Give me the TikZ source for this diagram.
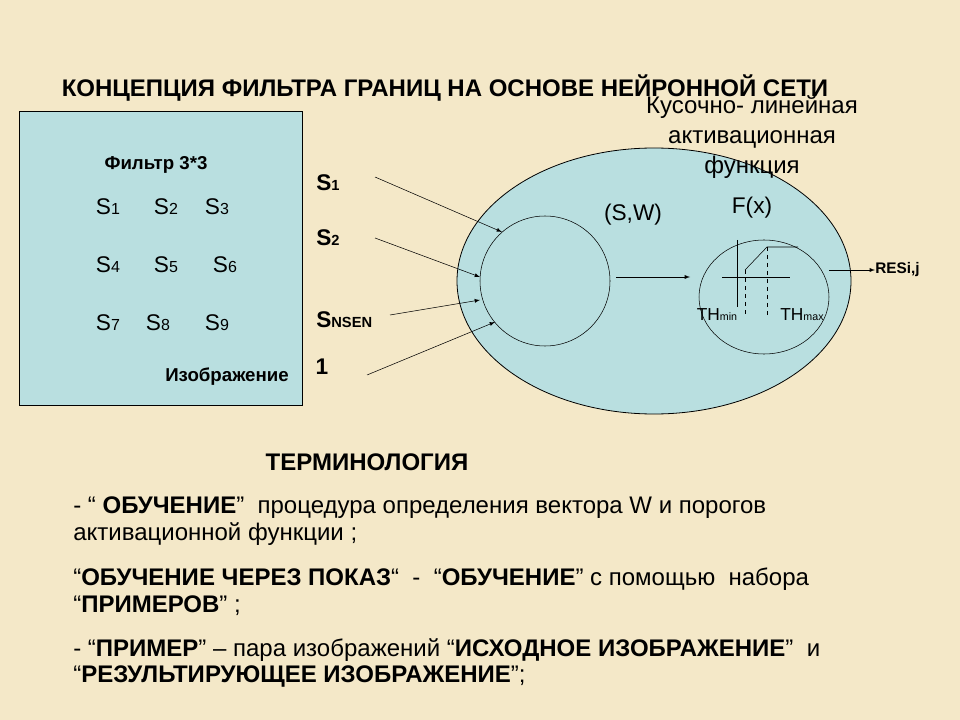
\documentclass[tikz,border=0pt]{standalone}
\usepackage{fontspec}
\setmainfont{Liberation Sans}
\usetikzlibrary{shapes.geometric}
\newcommand\smsub[2]{#1{\fontsize{12}{12}\selectfont #2}}
\begin{document}
\begin{tikzpicture}[x=0.75pt,y=-0.75pt,
  txt/.style={font=\fontsize{18}{20}\selectfont, inner sep=0pt},
  btxt/.style={font=\fontsize{18}{20}\selectfont\bfseries, inner sep=0pt},
  stxt/.style={font=\fontsize{17}{19}\selectfont, inner sep=0pt},
  arr/.style={-latex, black},
  shape1/.style={draw=black, fill=cellblue, line width=0.6pt}]
\definecolor{bgc}{HTML}{F4E8C8}
\definecolor{cellblue}{HTML}{B9DFE0}
\fill[bgc] (0,0) rectangle (960,720);
\useasboundingbox (0,0) rectangle (960,720);
\node[btxt] (title) at (445,88) {КОНЦЕПЦИЯ ФИЛЬТРА ГРАНИЦ НА ОСНОВЕ НЕЙРОННОЙ СЕТИ};
% image box
\node[shape1, rectangle, minimum width=212.25pt, minimum height=220.5pt, anchor=north west] (box) at (19,111) {};
\node[btxt, font=\fontsize{14}{16}\selectfont\bfseries] (filt) at (156,165) {Фильтр 3*3};
\node[stxt] (s1) at (108,207) {\smsub{S}{1}};
\node[stxt] (s2) at (166,207) {\smsub{S}{2}};
\node[stxt] (s3) at (217,207) {\smsub{S}{3}};
\node[stxt] (s4) at (108,265) {\smsub{S}{4}};
\node[stxt] (s5) at (166,265) {\smsub{S}{5}};
\node[stxt] (s6) at (225,265) {\smsub{S}{6}};
\node[stxt] (s7) at (108,323) {\smsub{S}{7}};
\node[stxt] (s8) at (158,323) {\smsub{S}{8}};
\node[stxt] (s9) at (217,323) {\smsub{S}{9}};
\node[btxt, font=\fontsize{14}{16}\selectfont\bfseries] (izo) at (227,377) {Изображение};
% ellipse
\node[shape1, ellipse, minimum width=295.5pt, minimum height=199.5pt, inner sep=0pt] (big) at (654,281) {};
\node[txt, align=center, font=\fontsize{18}{22.5}\selectfont] (act) at (752,137) {Кусочно- линейная\\активационная\\функция};
\node[draw=black, circle, minimum size=97.5pt, inner sep=0pt] (sum) at (545,281) {};
\node[draw=black, ellipse, minimum width=97.5pt, minimum height=85.5pt, inner sep=0pt] (fx) at (764,297) {};
\node[txt, font=\fontsize{17}{19}\selectfont] (sw) at (633,215) {(S,W)};
\node[txt, font=\fontsize{17}{19}\selectfont] (fxl) at (752,208) {F(x)};
\node[stxt, font=\fontsize{13}{14}\selectfont] (thmin) at (717,315) {TH{\fontsize{8}{9}\selectfont min}};
\node[stxt, font=\fontsize{13}{14}\selectfont] (thmax) at (802,315) {TH{\fontsize{8}{9}\selectfont max}};
% graph
\coordinate (va) at (737,240); \coordinate (vb) at (737,307);
\coordinate (ha) at (722,277); \coordinate (hb) at (790,277);
\coordinate (r1) at (745,270); \coordinate (r2) at (767,247); \coordinate (r3) at (798,247);
\coordinate (d1) at (745,316); \coordinate (d2) at (767,316);
\draw (va) -- (vb); \draw (ha) -- (hb);
\draw (r1) -- (r2) -- (r3);
\draw[dashed] (r1) -- (d1); \draw[dashed] (r2) -- (d2);
% inputs
\node[btxt, font=\fontsize{17}{19}\selectfont\bfseries] (in1) at (328,183) {S{\fontsize{11}{12}\selectfont\bfseries 1}};
\node[btxt, font=\fontsize{17}{19}\selectfont\bfseries] (in2) at (328,238) {S{\fontsize{11}{12}\selectfont\bfseries 2}};
\node[btxt, font=\fontsize{17}{19}\selectfont\bfseries, anchor=west] (in3) at (316,320) {S{\fontsize{11}{12}\selectfont\bfseries NSEN}};
\node[btxt, font=\fontsize{17}{19}\selectfont\bfseries] (in4) at (322,367) {1};
\coordinate (a1) at (375,177); \coordinate (a2) at (375,238);
\coordinate (a3) at (390,315); \coordinate (a4) at (367,375);
\draw[arr] (a1) -- (502,232);
\draw[arr] (a2) -- (480,277);
\draw[arr] (a3) -- (480,300);
\draw[arr] (a4) -- (495,322);
\coordinate (m1) at (616,277); \coordinate (m2) at (690,277);
\draw[arr] (m1) -- (m2);
\node[btxt, font=\fontsize{11.5}{12}\selectfont\bfseries, anchor=west] (res) at (875,270) {RESi,j};
\coordinate (o1) at (829,270);
\draw[arr] (o1) -- (res.west);
% terminology
\node[btxt] (term) at (367,462) {ТЕРМИНОЛОГИЯ};
\node[txt, anchor=west] (l1) at (73,508) {- “ \textbf{ОБУЧЕНИЕ}” \ процедура определения вектора W и порогов};
\node[txt, anchor=west] (l2) at (73,534) {активационной функции ;};
\node[txt, anchor=west] (l3) at (73,579) {“\textbf{ОБУЧЕНИЕ ЧЕРЕЗ ПОКАЗ}“ \ - \ “\textbf{ОБУЧЕНИЕ}” с помощью \ набора};
\node[txt, anchor=west] (l4) at (73,606) {“\textbf{ПРИМЕРОВ}” ;};
\node[txt, anchor=west] (l5) at (73,650) {- “\textbf{ПРИМЕР}” – пара изображений “\textbf{ИСХОДНОЕ ИЗОБРАЖЕНИЕ}” \ и};
\node[txt, anchor=west] (l6) at (73,677) {“\textbf{РЕЗУЛЬТИРУЮЩЕЕ ИЗОБРАЖЕНИЕ}”;};
\end{tikzpicture}
\end{document}
